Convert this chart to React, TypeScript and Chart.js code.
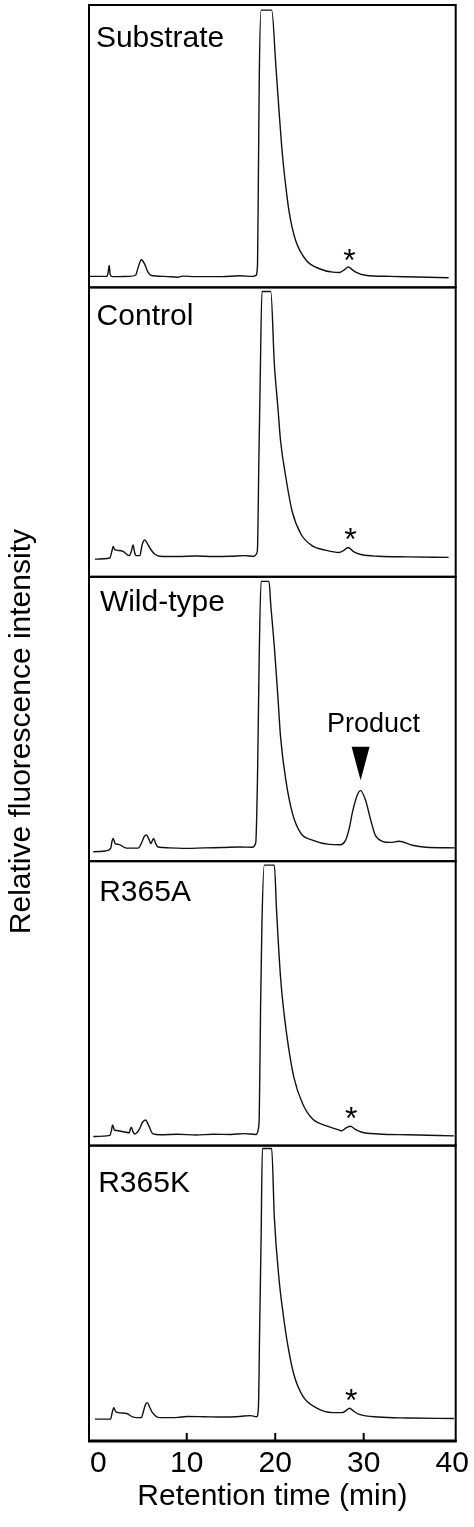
import React, { useEffect, useRef } from "react";
import { Chart, registerables } from "chart.js";

Chart.register(...registerables);

type Pt = [number, number];

const FONT = "'Liberation Sans', Arial, Helvetica, sans-serif";

const PANEL_NAMES = ["Substrate", "Control", "Wild-type", "R365A", "R365K"];
const X_TICKS = [0, 10, 20, 30, 40];
const X_MIN = -1.05;
const X_MAX = 40.4;
const X_TITLE = "Retention time (min)";
const Y_TITLE = "Relative fluorescence intensity";

// retention time (min), relative intensity (0-100 per panel, main peak off-scale)
const substrate: Pt[] = [
  [-0.95, 3.9], [0.9, 3.9], [1.1, 5.0], [1.23, 7.8], [1.35, 4.5], [1.6, 3.8],
  [3.5, 3.9], [4.2, 4.3], [4.5, 7.0], [4.87, 9.8], [5.2, 8.5], [5.6, 5.5],
  [6.0, 4.2], [7.5, 3.9], [9.0, 3.6], [9.5, 4.0], [11, 3.8], [14, 3.8],
  [16, 4.1], [17.5, 3.9], [17.8, 4.2], [18.0, 8.0], [18.1, 40], [18.2, 75],
  [18.4, 98.2], [19.6, 98.2], [20.08, 78.1], [20.45, 61.7], [20.8, 47.5],
  [21.2, 35.6], [21.6, 26.2], [22.3, 16.7], [23.5, 9.6], [25.0, 6.6],
  [26.5, 5.4], [27.3, 5.3], [27.8, 6.2], [28.25, 7.2], [28.7, 6.3],
  [29.1, 5.4], [30.2, 4.3], [33, 3.9], [36, 3.7], [39.6, 3.4],
];

const control: Pt[] = [
  [-0.38, 6.1], [1.3, 6.5], [1.55, 9.0], [1.68, 10.5], [1.85, 9.4], [2.06, 9.2],
  [2.8, 8.8], [3.5, 7.3], [3.75, 9.0], [3.93, 11.0], [4.1, 8.5], [4.3, 7.3],
  [4.7, 7.3], [4.95, 11.0], [5.25, 12.7], [5.55, 11.5], [5.9, 9.6], [6.4, 7.8],
  [6.94, 7.1], [9, 7.0], [11, 7.2], [13, 7.0], [15, 7.1], [16.5, 7.3],
  [17.6, 7.1], [17.9, 8.0], [18.0, 10.1], [18.15, 40], [18.3, 67.8],
  [18.5, 98.6], [19.5, 98.6], [19.9, 73.6], [20.3, 58.6], [20.6, 47.1],
  [21.2, 34.4], [21.9, 22.8], [22.9, 14.8], [24.2, 10.7], [25.7, 9.2],
  [27.2, 8.4], [27.7, 9.0], [28.25, 10.1], [28.8, 8.8], [29.8, 7.6],
  [31.7, 7.1], [35, 6.9], [39.6, 6.7],
];

const wildType: Pt[] = [
  [-0.57, 3.3], [0.8, 3.6], [1.4, 4.5], [1.55, 7.0], [1.68, 8.0], [1.9, 6.2],
  [2.3, 5.9], [3.2, 4.6], [4.5, 4.6], [4.9, 6.5], [5.2, 8.7], [5.44, 9.2],
  [5.75, 7.5], [5.95, 6.2], [6.1, 7.2], [6.26, 8.0], [6.45, 6.5], [6.75, 5.0],
  [8, 4.7], [10, 4.5], [12, 4.7], [14, 4.8], [16, 5.0], [17.4, 4.9],
  [17.8, 6.5], [18.0, 30], [18.2, 74], [18.4, 98.4], [19.3, 98.4],
  [19.5, 90], [19.9, 75.5], [20.3, 57.9], [20.6, 43.8], [21.2, 28.5],
  [21.95, 16.8], [22.9, 9.75], [24.2, 7.4], [26.1, 5.9], [27.3, 5.8],
  [27.96, 7.4], [28.4, 12], [28.7, 16.8], [29.27, 23.2], [29.65, 24.8],
  [30.2, 21.5], [30.8, 14.4], [31.3, 9.2], [32.1, 7.0], [33.0, 6.6],
  [34.0, 7.0], [35.5, 5.6], [37, 4.9], [40.3, 4.7],
];

const r365a: Pt[] = [
  [-0.57, 3.2], [1.3, 3.6], [1.5, 5.5], [1.61, 7.3], [1.8, 5.6], [2.06, 5.3],
  [3.0, 4.8], [3.5, 4.5], [3.65, 6.0], [3.75, 6.5], [3.9, 5.0], [4.12, 4.1],
  [4.6, 5.5], [5.0, 8.2], [5.36, 9.0], [5.7, 7.0], [6.18, 4.1], [7, 3.8],
  [9, 4.0], [11, 3.7], [13, 4.0], [15, 3.9], [16.5, 4.2], [17.8, 3.9],
  [18.1, 6.0], [18.2, 11], [18.35, 50], [18.5, 78.4], [18.76, 98.6],
  [19.9, 98.6], [20.15, 82.7], [20.6, 59.3], [21.0, 46.4], [21.5, 34.6],
  [22.1, 24.1], [23.1, 14.7], [24.2, 9.4], [25.7, 7.0], [27.2, 5.5],
  [27.5, 5.2], [28.0, 6.2], [28.5, 6.8], [29.0, 5.8], [29.8, 4.7],
  [31.7, 4.1], [35, 3.8], [40.2, 3.4],
];

const r365k: Pt[] = [
  [-0.38, 7.4], [1.38, 7.4], [1.6, 10], [1.76, 11.3], [1.95, 10], [2.24, 9.6],
  [3.2, 9.3], [3.93, 8.1], [4.87, 7.9], [5.1, 10], [5.35, 12.5], [5.55, 13.0],
  [5.8, 11.5], [6.12, 9.6], [6.94, 7.9], [9, 8.0], [10, 8.3], [12, 8.2],
  [14, 8.1], [16, 8.3], [17.2, 8.6], [17.9, 8.2], [18.1, 11.3], [18.25, 40],
  [18.4, 67.8], [18.55, 99.0], [19.6, 99.0], [19.9, 75.7], [20.45, 54.2],
  [20.9, 42.9], [21.4, 32.8], [22.1, 22.6], [23.1, 15.3], [24.6, 11.3],
  [26.5, 9.6], [27.6, 9.6], [28.0, 10.3], [28.4, 11.1], [28.9, 10.0],
  [29.5, 9.0], [31.7, 8.1], [35, 7.8], [40.2, 7.6],
];

const PANEL_SERIES: Pt[][] = [substrate, control, wildType, r365a, r365k];

// annotations (data coordinates within each panel)
const LABEL_POS: Pt[] = [[-0.27, 85.1], [-0.19, 86.9], [0.18, 87.8], [0.1, 86.0], [-0.01, 84.2]];
const ASTERISKS: (Pt | null)[] = [[28.4, 11.6], [28.5, 14.8], null, [28.6, 11.6], [28.6, 15.5]];
const PRODUCT_PANEL = 2;
const PRODUCT_TEXT = "Product";
const PRODUCT_LABEL: Pt = [31.1, 45.5];
const PRODUCT_ARROW_X = 29.65;
const PRODUCT_ARROW_TOP = 40.2;
const PRODUCT_ARROW_TIP = 28.5;

const PANEL_WEIGHTS = [282, 289, 284, 284, 295];

const annotatePlugin = {
  id: "annotate",
  afterDraw(chart: any) {
    const ctx: CanvasRenderingContext2D = chart.ctx;
    const xs = chart.scales.x;
    const area = chart.chartArea;
    ctx.save();
    ctx.strokeStyle = "#000";
    ctx.fillStyle = "#000";
    PANEL_NAMES.forEach((name, i) => {
      const ys = chart.scales["y" + i];
      ctx.lineWidth = 2;
      ctx.strokeRect(area.left, ys.top, area.right - area.left, ys.bottom - ys.top);
      ctx.font = `30px ${FONT}`;
      ctx.textAlign = "left";
      ctx.textBaseline = "alphabetic";
      ctx.fillText(name, xs.getPixelForValue(LABEL_POS[i][0]), ys.getPixelForValue(LABEL_POS[i][1]));
      const a = ASTERISKS[i];
      if (a) {
        ctx.font = `32px ${FONT}`;
        ctx.textAlign = "center";
        const m = ctx.measureText("*");
        const cy = ys.getPixelForValue(a[1]);
        const base = cy + (m.actualBoundingBoxAscent - m.actualBoundingBoxDescent) / 2;
        ctx.fillText("*", xs.getPixelForValue(a[0]), base);
      }
    });
    // bottom axis line
    ctx.lineWidth = 3;
    ctx.beginPath();
    ctx.moveTo(area.left - 1, area.bottom);
    ctx.lineTo(area.right + 1, area.bottom);
    ctx.stroke();
    // inward ticks
    ctx.lineWidth = 2;
    X_TICKS.slice(1, -1).forEach((v) => {
      const px = xs.getPixelForValue(v);
      ctx.beginPath();
      ctx.moveTo(px, area.bottom);
      ctx.lineTo(px, area.bottom - 8);
      ctx.stroke();
    });
    // product annotation
    const yp = chart.scales["y" + PRODUCT_PANEL];
    ctx.font = `27px ${FONT}`;
    ctx.textAlign = "center";
    ctx.textBaseline = "alphabetic";
    ctx.fillText(PRODUCT_TEXT, xs.getPixelForValue(PRODUCT_LABEL[0]), yp.getPixelForValue(PRODUCT_LABEL[1]));
    const ax = xs.getPixelForValue(PRODUCT_ARROW_X);
    const at = yp.getPixelForValue(PRODUCT_ARROW_TOP);
    const tip = yp.getPixelForValue(PRODUCT_ARROW_TIP);
    ctx.beginPath();
    ctx.moveTo(ax - 9, at);
    ctx.lineTo(ax + 9, at);
    ctx.lineTo(ax, tip);
    ctx.closePath();
    ctx.fill();
    // y-axis title (rotated), centred on the stacked panels
    ctx.save();
    ctx.translate(22, area.top + (area.bottom - area.top) * 0.506);
    ctx.rotate(-Math.PI / 2);
    ctx.font = `30px ${FONT}`;
    ctx.textAlign = "center";
    ctx.textBaseline = "middle";
    ctx.fillText(Y_TITLE, 0, 0);
    ctx.restore();
    ctx.restore();
  },
};

export default function App() {
  const ref = useRef<HTMLCanvasElement | null>(null);

  useEffect(() => {
    if (!ref.current) return;
    const scales: any = {
      x: {
        type: "linear",
        position: "bottom",
        min: X_MIN,
        max: X_MAX,
        afterBuildTicks: (s: any) => {
          s.ticks = X_TICKS.map((v) => ({ value: v }));
        },
        afterFit: (s: any) => {
          s.height = 86;
        },
        grid: { display: false, drawTicks: false },
        border: { display: false },
        ticks: {
          padding: 5,
          color: "#000",
          maxRotation: 0,
          autoSkip: false,
          font: { family: FONT, size: 30 },
        },
        title: {
          display: true,
          text: X_TITLE,
          color: "#000",
          font: { family: FONT, size: 30 },
          padding: { top: 0, bottom: 12 },
        },
      },
    };
    PANEL_NAMES.forEach((_, i) => {
      scales["y" + i] = {
        type: "linear",
        position: "left",
        stack: "panels",
        stackWeight: PANEL_WEIGHTS[i],
        weight: 10 - i,
        min: 0,
        max: 100,
        grid: { display: false, drawTicks: false },
        border: { display: false },
        ticks: { display: false },
        afterFit: (s: any) => {
          s.width = 89;
        },
        title: { display: false },
      };
    });

    const chart = new Chart(ref.current, {
      type: "line",
      data: {
        datasets: PANEL_SERIES.map((series, i) => ({
          label: PANEL_NAMES[i],
          data: series.map(([x, y]) => ({ x, y })),
          yAxisID: "y" + i,
          borderColor: "#111",
          borderWidth: 1.4,
          pointRadius: 0,
          fill: false,
          cubicInterpolationMode: "monotone" as const,
        })),
      },
      options: {
        animation: false,
        responsive: false,
        devicePixelRatio: 1,
        layout: { padding: { left: 0, right: 17, top: 5, bottom: 0 } },
        plugins: { legend: { display: false }, tooltip: { enabled: false } },
        scales,
      },
      plugins: [annotatePlugin],
    });
    return () => chart.destroy();
  }, []);

  return (
    <div style={{ position: "absolute", left: 0, top: 0, width: 474, height: 1527, background: "#fff" }}>
      <canvas ref={ref} width={474} height={1527} style={{ display: "block" }} />
    </div>
  );
}
